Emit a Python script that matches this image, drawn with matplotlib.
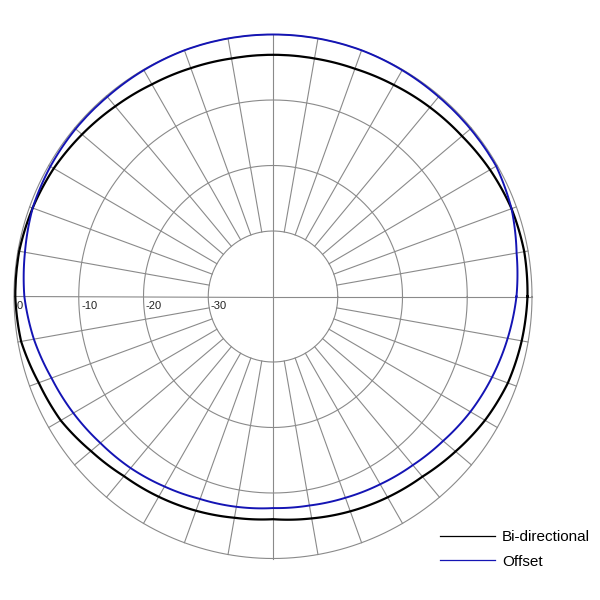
import numpy as np
import matplotlib
matplotlib.use("Agg")
import matplotlib.pyplot as plt

plt.rcParams['font.family'] = ['Liberation Sans', 'DejaVu Sans']

# angles (degrees, 0 = right, counter-clockwise)
angles_deg = [0, 10, 20, 30, 40, 50, 60, 70, 80, 90, 100, 110, 120, 130, 140, 150, 160, 170,
              180, 190, 200, 210, 220, 230, 240, 250, 260, 270, 280, 290, 300, 310, 320, 330, 340, 350]

bidirectional_db = [-0.7, -0.6, -0.8, -1.3, -1.9, -2.3, -2.7, -3.0, -3.1, -3.1, -3.1, -2.9,
                    -2.6, -2.1, -1.5, -0.9, -0.5, -0.2, -0.2, -0.5, -1.5, -2.15, -3.3, -4.2,
                    -4.7, -5.2, -5.7, -6.0, -5.6, -5.1, -4.6, -4.1, -3.2, -2.2, -1.4, -1.0]

offset_db = [-2.4, -1.8, -0.8, -0.2, -0.2, -0.2, -0.1, 0.0, 0.0, 0.0, 0.0, 0.0,
             -0.1, -0.2, -0.2, -0.3, -0.5, -1.1, -1.6, -2.5, -3.6, -4.4, -5.2, -5.8,
             -6.5, -7.1, -7.4, -7.7, -7.6, -7.3, -6.9, -6.4, -5.7, -4.8, -4.0, -3.2]

series_labels = ["Bi-directional", "Offset"]
series_colors = ["#000000", "#1414b4"]

ring_levels = [-30, -20, -10, 0]
ring_labels = ["-30", "-20", "-10", "0"]
r_min, r_max = -40, 0
spoke_step = 10

fig = plt.figure(figsize=(6, 6), dpi=100)
cx, cy = 273 / 600, 1 - 296.5 / 600
rx, ry = 259 / 600, 262 / 600
ax = fig.add_axes([cx - rx, cy - ry, 2 * rx, 2 * ry], projection='polar')
ax.set_aspect('auto')
ax.set_ylim(r_min, r_max)
ax.grid(False)
ax.set_xticks([])
ax.set_yticks([])
ax.spines['polar'].set_visible(False)
ax.patch.set_visible(False)

grid_col = "#8a8a8a"
t_full = np.linspace(0, 2 * np.pi, 721)
for lvl in ring_levels:
    ax.plot(t_full, np.full_like(t_full, lvl), color=grid_col, lw=0.8, zorder=1, clip_on=False)

for a in range(0, 360, spoke_step):
    th = np.deg2rad(a)
    start = r_min if a % 90 == 0 else ring_levels[0]
    ax.plot([th, th], [start, r_max], color=grid_col, lw=0.8, zorder=1, clip_on=False)

for lvl, lab in zip(ring_levels, ring_labels):
    ax.annotate(lab, xy=(np.pi, lvl), xytext=(1.8, -3.5), textcoords='offset points',
                ha='left', va='top', fontsize=8, color='#222222')

# close each curve at 360 degrees so the last segment runs forward
theta = np.deg2rad(angles_deg + [360])
lines = []
for vals, lab, col, lw in zip([bidirectional_db, offset_db], series_labels, series_colors, [1.6, 1.4]):
    ln, = ax.plot(theta, vals + [vals[0]], color=col, lw=lw, label=lab, zorder=3, clip_on=False)
    # let the polar transform draw each segment as a curve in (theta, r)
    ln.get_path()._interpolation_steps = 40
    lines.append(ln)

leg = fig.legend(handles=lines, labels=series_labels, loc='upper left',
                 bbox_to_anchor=(440 / 600, 1 - 530 / 600), frameon=False, fontsize=11,
                 handlelength=3.6, handletextpad=0.45, labelspacing=0.7,
                 borderaxespad=0, borderpad=0)
for l in leg.get_lines():
    l.set_linewidth(0.9)

fig.savefig("out.png", dpi=100, facecolor='white')
